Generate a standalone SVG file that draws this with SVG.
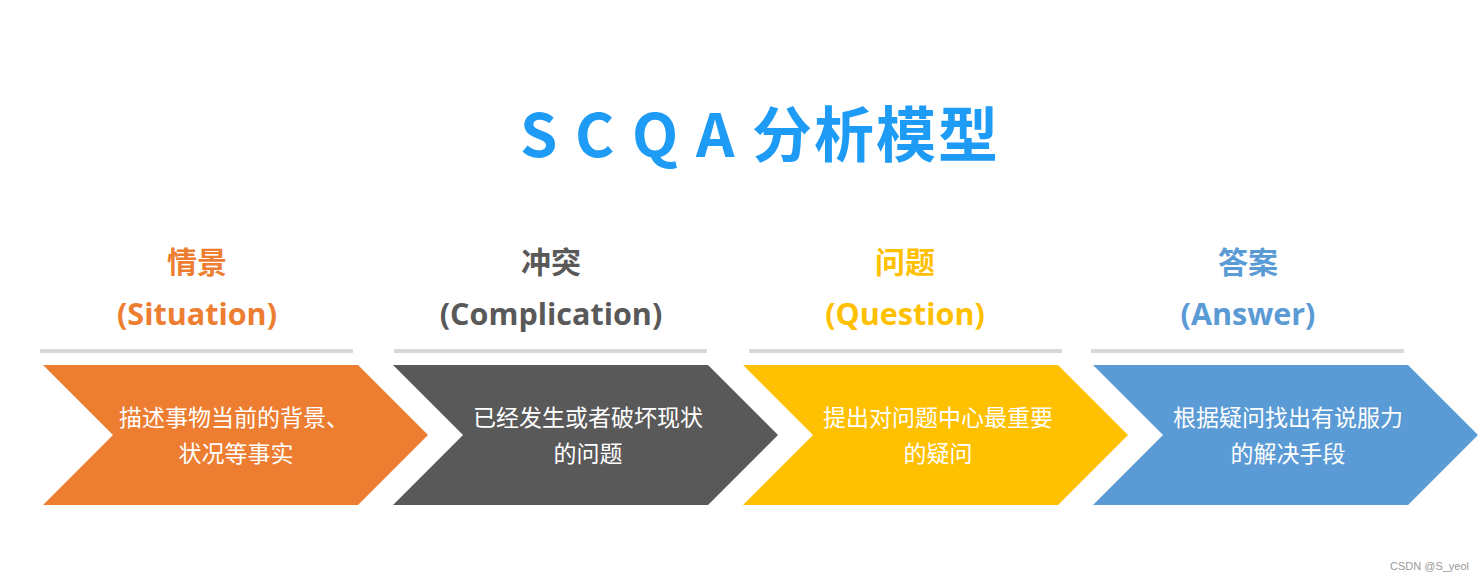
<svg xmlns="http://www.w3.org/2000/svg" width="1482" height="583" viewBox="0 0 1482 583">
<style>
.title{font-family:"Noto Sans CJK SC","Noto Sans",sans-serif;font-weight:700;font-size:60px;letter-spacing:2px;fill:#1E9BF5;text-anchor:middle}
.hd{font-family:"Noto Sans CJK SC","Noto Sans",sans-serif;font-weight:700;font-size:30px;text-anchor:middle}
.sub{font-family:"Open Sans","Noto Sans",sans-serif;font-weight:700;font-size:30.5px;text-anchor:middle}
.body{font-family:"Noto Sans CJK SC",sans-serif;font-size:23px;fill:#fff;text-anchor:middle}
.bar{fill:#D9D9D9}
.wm{font-family:"Liberation Sans",sans-serif;font-size:11px;fill:#999}
</style>
<defs>
<polygon id="chev" points="0,0 315,0 385,70 315,140 0,140 70,70"/>
</defs>
<rect width="1482" height="583" fill="#fff"/>
<text class="title" x="760" y="157">S C Q A 分析模型</text>
<g id="connectors"></g>
<g id="node-s">
<text class="hd" x="197" y="273" fill="#ED7D31">情景</text>
<text class="sub" x="197" y="325" fill="#ED7D31">(Situation)</text>
<rect class="bar" x="40" y="349" width="313" height="4"/>
<use href="#chev" x="43" y="365" fill="#ED7D31"/>
<text class="body" x="234" y="426">描述事物当前的背景、</text>
<text class="body" x="236" y="462">状况等事实</text>
</g>
<g id="node-c">
<text class="hd" x="551" y="273" fill="#595959">冲突</text>
<text class="sub" x="551" y="325" fill="#595959">(Complication)</text>
<rect class="bar" x="394" y="349" width="313" height="4"/>
<use href="#chev" x="393" y="365" fill="#595959"/>
<text class="body" x="588" y="426">已经发生或者破坏现状</text>
<text class="body" x="588" y="462">的问题</text>
</g>
<g id="node-q">
<text class="hd" x="905" y="273" fill="#FFC000">问题</text>
<text class="sub" x="905" y="325" fill="#FFC000">(Question)</text>
<rect class="bar" x="749" y="349" width="313" height="4"/>
<use href="#chev" x="743" y="365" fill="#FFC000"/>
<text class="body" x="938" y="426">提出对问题中心最重要</text>
<text class="body" x="938" y="462">的疑问</text>
</g>
<g id="node-a">
<text class="hd" x="1248" y="273" fill="#5B9BD5">答案</text>
<text class="sub" x="1248" y="325" fill="#5B9BD5">(Answer)</text>
<rect class="bar" x="1091" y="349" width="313" height="4"/>
<use href="#chev" x="1093" y="365" fill="#5B9BD5"/>
<text class="body" x="1288" y="426">根据疑问找出有说服力</text>
<text class="body" x="1288" y="462">的解决手段</text>
</g>
<text class="wm" x="1390" y="570">CSDN @S_yeol</text>
</svg>
